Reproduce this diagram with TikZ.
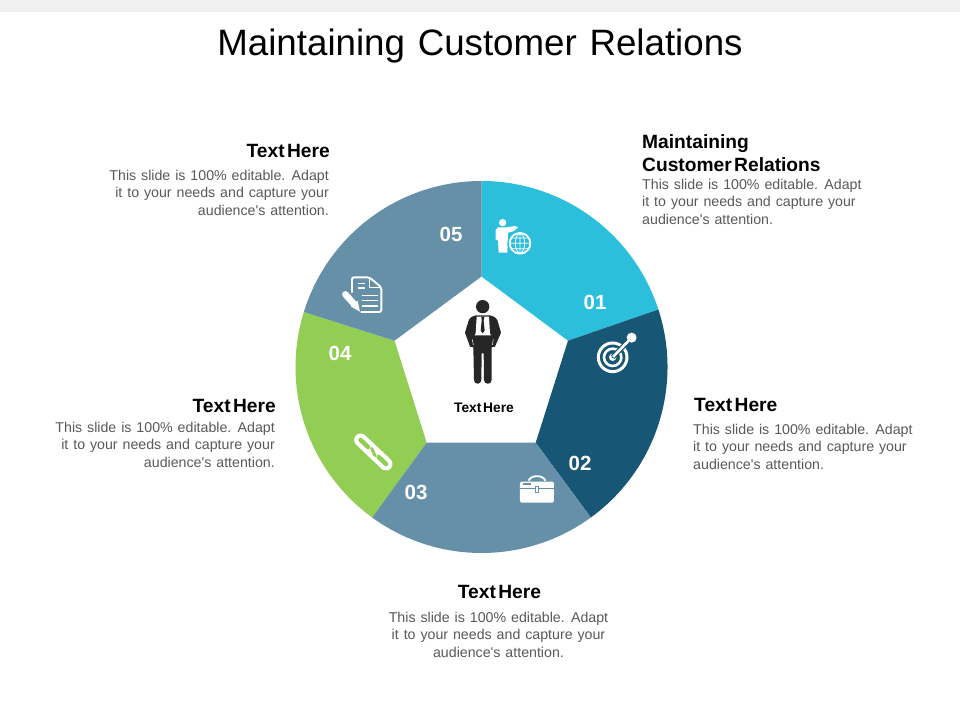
\documentclass[tikz,border=0pt]{standalone}
\usepackage{fontspec}
\setmainfont{Liberation Sans}
\newfontfamily\titlefont[WordSpace=1.7]{Liberation Sans}
\newfontfamily\headfont[WordSpace=0.45]{Liberation Sans Bold}
\newfontfamily\bodyfont[WordSpace=1.25]{Liberation Sans}
\definecolor{cA}{HTML}{2BBFDC}
\definecolor{cB}{HTML}{175674}
\definecolor{cC}{HTML}{6590A8}
\definecolor{cD}{HTML}{92CE54}
\definecolor{cBody}{HTML}{595959}
\definecolor{cFig}{HTML}{262626}
\tikzset{
  x=1pt,y=1pt,
  num/.style={text=white,font=\headfont\fontsize{20.5}{22}\selectfont,inner sep=0pt},
  head/.style={text=black,font=\headfont\fontsize{19.2}{23}\selectfont,inner sep=0pt},
  bodytext/.style={text=cBody,font=\bodyfont\fontsize{14.2}{17.5}\selectfont,inner sep=0pt},
  ico/.style={x=0.3333pt,y=-0.3333pt},
}
\begin{document}
\begin{tikzpicture}
\useasboundingbox (0,0) rectangle (960,720);
\fill[white] (0,0) rectangle (960,720);
\fill[black!6] (0,708) rectangle (960,720);
\coordinate (c) at (481.5,353);
\def\R{186}
\foreach \n/\a in {a/90,b/18,d/-54,e/-126,f/162.8}{
  \coordinate (o\n) at ([shift={(\a:\R)}]c);
}
\coordinate (ia) at (481.5,443.5);
\coordinate (ib) at (568,379.3);
\coordinate (id) at (535.7,277.3);
\coordinate (ie) at (426.7,277.3);
\coordinate (if) at (394.5,379.3);
% sectors
\fill[cA] (ia) -- (oa) arc[start angle=90,end angle=18,radius=\R] -- (ib) -- cycle;
\fill[cB] (ib) -- (ob) arc[start angle=18,end angle=-54,radius=\R] -- (id) -- cycle;
\fill[cD] (ie) -- (oe) arc[start angle=234,end angle=162.8,radius=\R] -- (if) -- cycle;
\fill[cC] (if) -- (of) arc[start angle=162.8,end angle=90,radius=\R] -- (ia) -- cycle;
\fill[cC] (id) -- (od) arc[start angle=-54,end angle=-126,radius=\R] -- (ie) -- cycle;
% numbers
\node[num] (n1) at (595,418) {01};
\node[num] (n2) at (580,257) {02};
\node[num] (n3) at (416,228) {03};
\node[num] (n4) at (340,367) {04};
\node[num] (n5) at (451,486) {05};
% title
\node[inner sep=0pt,font=\titlefont\fontsize{36.7}{42}\selectfont] (title) at (480,673.5) {Maintaining Customer Relations};
% text blocks
\node[head,anchor=north west,align=left] (h1) at (642,586) {Maintaining\\Customer Relations};
\node[bodytext,anchor=north west,align=left] (b1) at (642,541) {This slide is 100\% editable. Adapt\\it to your needs and capture your\\audience's attention.};
\node[head,anchor=west] (h2) at (694,315) {Text Here};
\node[bodytext,anchor=north west,align=left] (b2) at (693,296) {This slide is 100\% editable. Adapt\\it to your needs and capture your\\audience's attention.};
\node[head] (h3) at (499.5,128) {Text Here};
\node[bodytext,anchor=north,align=center] (b3) at (498.5,108) {This slide is 100\% editable. Adapt\\it to your needs and capture your\\audience's attention.};
\node[head,anchor=east] (h4) at (276,314) {Text Here};
\node[bodytext,anchor=north east,align=right] (b4) at (275,298) {This slide is 100\% editable. Adapt\\it to your needs and capture your\\audience's attention.};
\node[head,anchor=east] (h5) at (330,569) {Text Here};
\node[bodytext,anchor=north east,align=right] (b5) at (329,550) {This slide is 100\% editable. Adapt\\it to your needs and capture your\\audience's attention.};
\node[inner sep=0pt,font=\headfont\fontsize{13.8}{15}\selectfont] (h0) at (484,312) {Text\hskip0.12em Here};
% businessman (zoom frame 440,290)
\begin{scope}[shift={(440,430)},ico]
  \fill[cFig] (128,50) circle[radius=20];
  \fill[cFig] (108,76) -- (150,76) .. controls (165,80) and (172,85) .. (175,100)
    -- (183,128) -- (165,170) -- (155,172) -- (155,270)
    .. controls (155,285) and (132,285) .. (132,270) -- (131,190) -- (125,190) -- (124,270)
    .. controls (124,285) and (102,285) .. (102,270) -- (100,172) -- (90,170) -- (75,128)
    -- (85,95) .. controls (88,82) and (95,80) .. (108,76) -- cycle;
  \fill[white] (110,80) -- (147,80) -- (150,130) -- (153,136) -- (104,136) -- (107,130) -- cycle;
  \fill[cFig] (124,80) -- (133,80) -- (131,92) -- (134,122) -- (128,130) -- (122,122) -- (125,92) -- cycle;
  \draw[white,line width=0.5pt] (97,148) -- (100,165) (160,148) -- (157,165);
\end{scope}
% target (zoom frame 480,170)
\begin{scope}[shift={(480,550)},ico]
  \draw[white,line width=3pt] (398,562) circle[radius=43];
  \draw[white,line width=2.6pt] (398,562) circle[radius=26];
  \fill[white] (398,562) circle[radius=11];
  \draw[cB,line width=5pt] (398,562) -- (450,508);
  \draw[white,line width=2.6pt] (398,562) -- (452,506);
  \fill[white] (455,503) circle[radius=15];
  \fill[cB] (398,562) circle[radius=3];
\end{scope}
% man with globe
\begin{scope}[shift={(480,550)},ico]
  \fill[white] (68,158) circle[radius=11];
  \fill[white] (54,172) -- (80,172) -- (105,168) -- (114,172) -- (100,184) -- (84,188) -- (82,248) -- (56,248) -- (54,212) -- (47,208) -- (47,180) -- cycle;
  \fill[cA] (120,220) circle[radius=38];
  \draw[white,line width=1.8pt] (120,220) circle[radius=31];
  \draw[white,line width=0.8pt] (120,220) circle[x radius=14,y radius=29]
    (120,191) -- (120,249) (90,220) -- (150,220) (95,204) -- (145,204) (95,236) -- (145,236);
\end{scope}
% document (zoom frame 290,170)
\begin{scope}[shift={(290,550)},ico]
  \draw[white,line width=1.9pt,line join=round,rounded corners=2pt] (186,368) -- (186,322) -- (238,322) -- (274,352) -- (274,426) -- (212,426);
  \draw[white,line width=1.6pt,line join=round] (238,322) -- (238,352) -- (274,352);
  \draw[white,line width=1.5pt] (205,341) -- (226,341) (205,354) -- (226,354)
     (215,376) -- (263,376) (215,392) -- (263,392) (215,408) -- (263,408);
  \draw[white,line width=6.5pt,line cap=round] (166,373) -- (192,402);
  \fill[white] (183,410) -- (203,392) -- (210,425) -- cycle;
\end{scope}
% briefcase and links (zoom frame 340,380)
\begin{scope}[shift={(340,340)},ico]
  \fill[white,rounded corners=2pt] (540,305) rectangle (642,368);
  \draw[white,line width=1.8pt] (566,302) .. controls (572,284) and (610,284) .. (616,302);
  \draw[cC,line width=0.6pt] (540,326) -- (642,326);
  \fill[cC] (548,310) rectangle (572,314);
  \fill[white,draw=cC,line width=0.6pt] (586,319) rectangle (596,337);
  % links
  \draw[white,line width=13pt,line cap=round] (62,180) -- (138,252);
  \draw[cD,line width=4.6pt,line cap=round] (62,180) -- (84,201);
  \draw[cD,line width=4.6pt,line cap=round] (116,231) -- (138,252);
  \draw[cD,line width=3pt,line cap=round] (95,205) -- (105,227);
\end{scope}
\end{tikzpicture}
\end{document}
